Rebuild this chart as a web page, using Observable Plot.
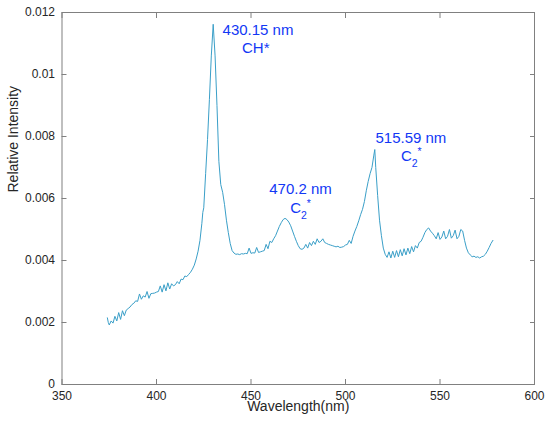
<!DOCTYPE html>
<html><head><meta charset="utf-8">
<script src="https://cdn.jsdelivr.net/npm/d3@7"></script>
<script src="https://cdn.jsdelivr.net/npm/@observablehq/plot@0.6"></script>
<style>body{margin:0;background:#fff}svg{display:block;background:#fff}</style>
</head><body><div id="chart"></div><script>
const wavelength = [374,374.5,375,376,377,378,379,380,381,382,383,384,385,386,387,388,389,390,391,392,393,394,395,396,397,398,399,400,401,402,403,404,405,406,407,408,409,410,411,412,413,414,415,416,417,418,419,420,421,422,423,424,424.5,425,426,427,428,429,430,431,432,433,434,435,436,437,438,439,440,441,442,443,444,445,446,447,448,449,450,451,452,453,454,455,456,457,458,459,460,461,462,463,464,465,466,467,468,469,470,471,472,473,474,475,476,477,478,479,480,481,482,483,484,485,486,487,488,489,490,491,492,493,494,495,496,497,498,499,500,501,502,503,504,505,506,507,508,509,510,511,512,513,514,515,515.5,516,517,518,519,520,521,522,523,524,525,526,527,528,529,530,531,532,533,534,535,536,537,538,539,540,541,542,543,544,545,546,547,548,549,550,551,552,553,554,555,556,557,558,559,560,561,562,563,564,565,566,567,568,569,570,571,572,573,574,575,576,577,578];
const intensity = [0.00215,0.00200,0.00192,0.00205,0.00198,0.00220,0.00205,0.00232,0.00210,0.00238,0.00222,0.00240,0.00245,0.00250,0.00258,0.00262,0.00270,0.00268,0.00292,0.00275,0.00286,0.00282,0.00300,0.00278,0.00293,0.00294,0.00295,0.00298,0.00300,0.00318,0.00298,0.00322,0.00302,0.00328,0.00308,0.00325,0.00318,0.00322,0.00332,0.00325,0.00340,0.00338,0.00350,0.00348,0.00355,0.00362,0.00372,0.00385,0.00405,0.00430,0.00465,0.00520,0.00555,0.00570,0.00680,0.00790,0.00920,0.01060,0.01162,0.01060,0.00900,0.00720,0.00645,0.00620,0.00580,0.00530,0.00490,0.00455,0.00432,0.00424,0.00420,0.00421,0.00419,0.00422,0.00421,0.00423,0.00422,0.00440,0.00423,0.00425,0.00424,0.00442,0.00426,0.00428,0.00430,0.00432,0.00452,0.00438,0.00462,0.00458,0.00470,0.00480,0.00495,0.00510,0.00522,0.00532,0.00536,0.00532,0.00524,0.00512,0.00495,0.00478,0.00462,0.00448,0.00438,0.00436,0.00440,0.00452,0.00440,0.00458,0.00448,0.00462,0.00452,0.00470,0.00458,0.00462,0.00470,0.00458,0.00455,0.00452,0.00450,0.00448,0.00446,0.00444,0.00446,0.00442,0.00443,0.00445,0.00450,0.00452,0.00465,0.00455,0.00478,0.00495,0.00510,0.00528,0.00548,0.00565,0.00590,0.00625,0.00655,0.00680,0.00700,0.00740,0.00758,0.00700,0.00610,0.00530,0.00480,0.00440,0.00420,0.00410,0.00428,0.00408,0.00430,0.00410,0.00432,0.00412,0.00435,0.00415,0.00438,0.00418,0.00440,0.00422,0.00445,0.00428,0.00448,0.00440,0.00458,0.00462,0.00475,0.00490,0.00500,0.00505,0.00495,0.00488,0.00480,0.00470,0.00490,0.00468,0.00476,0.00495,0.00470,0.00478,0.00500,0.00472,0.00480,0.00498,0.00470,0.00478,0.00500,0.00495,0.00465,0.00440,0.00425,0.00418,0.00412,0.00414,0.00410,0.00412,0.00408,0.00412,0.00414,0.00420,0.00430,0.00442,0.00455,0.00465];
const xTicks = [350,400,450,500,550,600];
const yTicks = [0,0.002,0.004,0.006,0.008,0.01,0.012];
const labelText = ["430.15 nm","CH*","470.2 nm","C2*","515.59 nm","C2*"];
const labelX = [453.7,452.5,476.2,476.2,534.6,534.8];
const labelY = [0.01143,0.01086,0.00630,0.00570,0.00795,0.00735];

const spectrum = wavelength.map((w,i)=>({w, v: intensity[i]}));
const labels = labelText.map((t,i)=>({t, x: labelX[i], y: labelY[i]}));
const gray = "#808080";
const font = "Liberation Sans, Arial, Helvetica, sans-serif";

const chart = Plot.plot({
  width: 550, height: 424,
  marginLeft: 61.5, marginRight: 16, marginTop: 12, marginBottom: 40,
  style: {fontFamily: font, fontSize: "12px", color: "#262626", background: "#fff"},
  x: {domain: [350, 600]},
  y: {domain: [0, 0.012]},
  marks: [
    Plot.frame({stroke: gray}),
    Plot.axisX(xTicks, {anchor: "bottom", tickSize: -5, tickPadding: 12, stroke: gray, fill: "#262626", fontSize: 12, label: null}),
    Plot.axisX(xTicks, {anchor: "top", tickSize: -5, tickFormat: () => "", stroke: gray, label: null}),
    Plot.axisY(yTicks, {anchor: "left", tickSize: -5, tickPadding: 12, tickFormat: "~g", stroke: gray, fill: "#262626", fontSize: 12, label: null}),
    Plot.axisY(yTicks, {anchor: "right", tickSize: -5, tickFormat: () => "", stroke: gray, label: null}),
    Plot.line(spectrum, {x: "w", y: "v", stroke: "#3a9fc8", strokeWidth: 1}),
    Plot.text(labels, {x: "x", y: "y", text: "t", fill: "#1238f5", fontSize: 15, textAnchor: "middle"}),
    Plot.text(["Wavelength(nm)"], {frameAnchor: "bottom", dy: 26, fontSize: 14, fill: "#262626"}),
    Plot.text(["Relative Intensity"], {frameAnchor: "left", rotate: -90, dx: -48, dy: -6, fontSize: 14, fill: "#262626"})
  ]
});
document.getElementById("chart").appendChild(chart);
chart.querySelectorAll("text").forEach(t => {
  if (t.textContent === "C2*") {
    t.innerHTML = 'C<tspan baseline-shift="sub" font-size="70%">2</tspan><tspan baseline-shift="super" font-size="70%">*</tspan>';
  }
});
</script></body></html>
